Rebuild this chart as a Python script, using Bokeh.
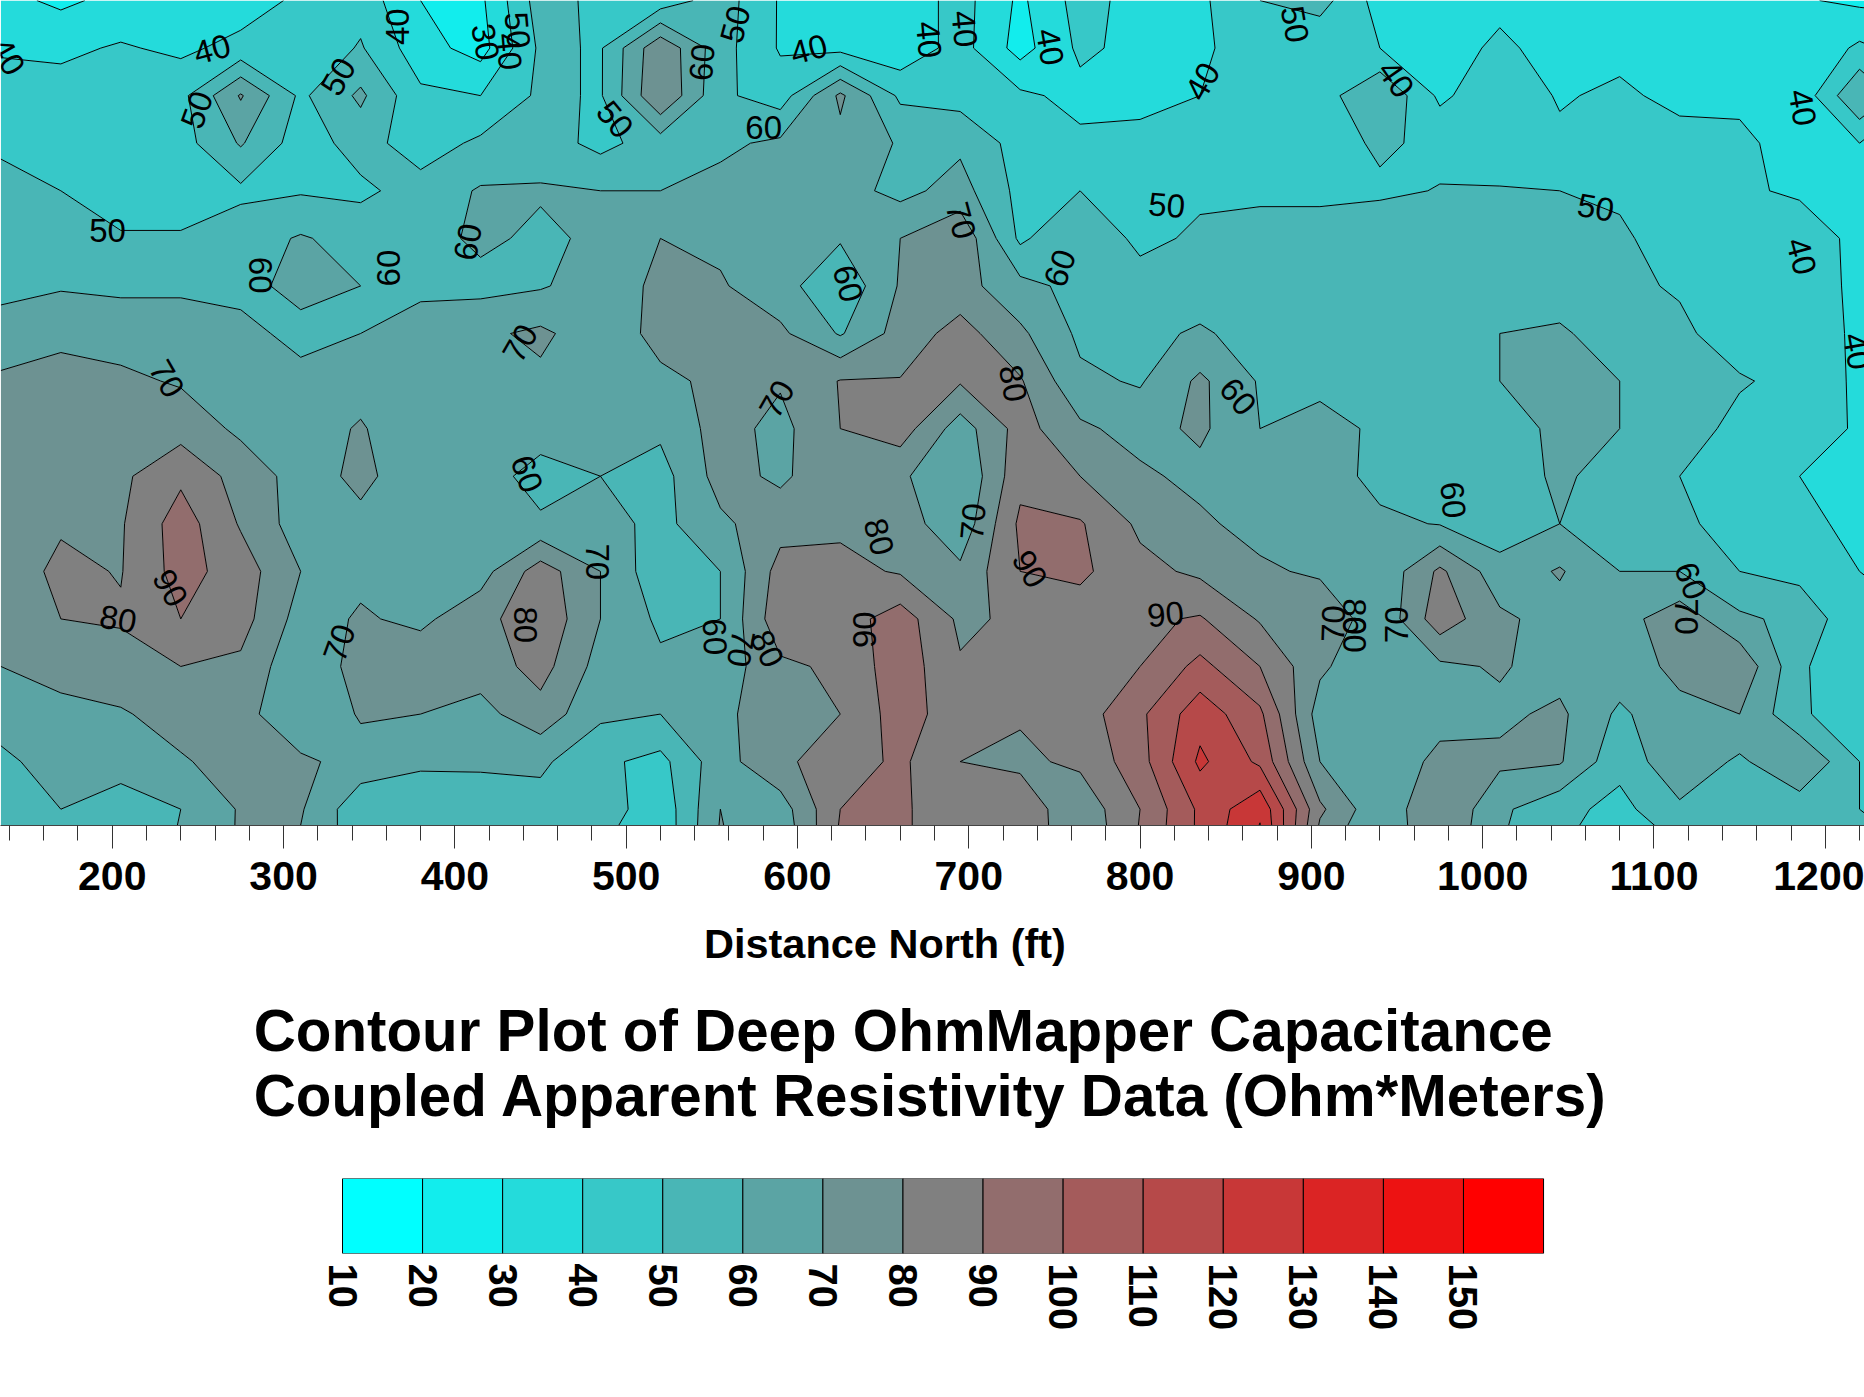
from math import pi
import numpy as np
from bokeh.plotting import figure
from bokeh.layouts import column
from bokeh.models import Range1d, FixedTicker, ColumnDataSource
from bokeh.core.properties import value
from bokeh.embed import file_html
from bokeh.resources import INLINE

distance_ft = [135 + 35 * i for i in range(33)]
row_pos = [40 * k for k in range(19)]

r00 = [33,28,33,33,35,42,46,30,28,55,47,44,55,39,36,33,44,28,44,36,38,50,54,36,34,36,34,34,33,32,31,28,28]
r01 = [39,38,41,38,43,42,51,34,26,52,49,78,54,39,37,33,44,26,42,37,37,49,42,40,33,43,34,37,33,33,31,42,35]
r02 = [44,44,44,47,71,48,62,42,40,52,49,80,52,45,72,48,46,42,37,38,40,44,45,60,38,47,39,42,37,38,33,60,40]
r03 = [48,46,45,46,61,45,54,45,52,55,47,55,58,62,67,59,58,46,42,42,42,43,44,52,47,41,42,41,44,42,36,40,36]
r04 = [54,50,45,45,48,49,48,54,61,61,60,60,63,66,64,57,64,47,50,47,48,49,49,48,50.5,51,50,49,45,42,38,34,34]
r05 = [56,55,51,51,55,61,56,56,62,58,62,70,68,63,61,70,78,48,60,47,52,52,52,58,54,56,52,51,47,45,48,36,36]
r06 = [58,59,58,59,58,62,60,57,57,59,65,72,71,64,52,71,74,63,57,55,56,54,53,60,57,55,53,52,49,46,47,37,38]
r07 = [63,68,66,63,62,58,60,66,68,72,64,73,74,72,59,74,84,72,58,58,61,57,55,55,54,60,62,53,52,45,43,39,45]
r08 = [72,73,72,69,70,62,66,64,68,68,68,68,72,71,80.5,80.5,81,81,62,59,72,59,57,57,54,60,64,60,59,51,47,38,39]
r09 = [74,75,75,76,68,65,71,62,66,66,67,62,74,67,80,85,65,84,72,66,72,60,64,58,57,56,62,60,55,47,44,39,38]
r10 = [77,77,78,88,76,66,72,65,66,55,60,56,74,68,78,72,60,87,80,72,67,66,65,57,60,54,62,55,50,45,40,33,38]
r11 = [77,79,79,95,79,65,68,65,66,62,64,57,68,76,78,75,63,92,91,78,72,66,64,62,59.5,54,60,60,52,46,42,38,40]
r12 = [75,82,79.5,94,85,70,68,64,66,85,70,53,60,84,83,79,72,90,92,83,78,72,68,62,82,64,71,60,60,50,47,40,40]
r13 = [74,80,81,90,84,66,71,68,76,88,70,58,60,87,85,95,78,82,85,88,91,79,80,62,86,72,66,66,76,62,57,42,40]
r14 = [70,75,76,80,78,62,74,76,74,84,66,62,64,78,82,96,81,82,88,90,103,90,72,61,68,71,66,66,72,78,52,40,42]
r15 = [64,66,69,74,74,61,71,70,67,76,62,60,68,75,80,95,84,81,85,98,116,102,65,62,66,68,72,58,68,70,52,42,45]
r16 = [58,64,66,69,74,72,66,62,62,62,52,47,66,78,85,92,80,78,82,96,122,108,70,62,73,72,71,53,68,58,70,50,44]
r17 = [57,60,53,60,71,71,53,52,53,56,56,43,70,65,90,92,82,86,73,90,112,128,82,62,80,62,53,47,58,54,54,50,48]
r18 = [56,57,50,62,71,68,55,50,50,53,50,42,72,60,93,93,78,92,68,92,112,135,72,62,78,60,50,47,48,52,53,52,50]

levels = list(range(10, 170, 10))
band_starts = levels[:-1]
band_colors = ["#%02x%02x%02x" % (round(255 * i / 14), round(255 * (14 - i) / 14), round(255 * (14 - i) / 14)) for i in range(15)]

label_text = ["40","40","50","50","40","30","40","50","50","60","50","40","40","40","40","50","40","40","60","50",
              "60","60","60","70","70","70","60","70","60","50","50","40","40","40","60","80","60","70","70","80",
              "80","90","80","70","90","90","90","60","70","80","70","80","60","70","60","60","70"]
label_px = [6,178,165,284,334,408,428,435,618,590,517,680,781,811,883,1089,1011,1174,642,90,
            219,326,393,437,140,653,713,808,891,981,1342,1515,1516,1562,1041,852,443,502,285,442,
            99,143,739,818,866,980,727,601,623,645,1121,1139,1139,1174,1222,1422,1418]
label_py = [47,41,92,64,22,35,43,25,20,52,100,41,33,24,39,20,68,66,107,193,
            231,225,203,288,318,335,238,185,225,172,174,215,90,295,333,322,398,472,540,525,
            520,494,451,438,478,516,529,535,545,545,524,518,533,525,420,488,518]
label_ang = [-60,15,70,60,90,-80,-85,-85,75,85,-50,15,-85,-85,-80,-80,60,-55,0,0,
             -90,90,80,60,-60,60,-75,-75,70,-5,-10,-75,-80,-80,-50,-80,-70,-90,70,-90,
             -10,-60,-75,85,-60,5,90,-88,-100,-65,88,-90,-90,90,-85,-70,-90]

def ft(px):
    return 200 + (px - 94) / 1.441

z = np.array([r00,r01,r02,r03,r04,r05,r06,r07,r08,r09,r10,r11,r12,r13,r14,r15,r16,r17,r18], dtype=float)

FONT = "Liberation Sans"
p = figure(width=1864, height=905, output_backend="svg", toolbar_location=None,
           x_range=Range1d(ft(0), ft(1568)), y_range=Range1d(693.7, 0),
           y_axis_location=None, min_border_left=0, min_border_right=0, min_border_top=0, min_border_bottom=80)
p.grid.visible = False
p.outline_line_color = None
p.contour(distance_ft, row_pos, z, levels, fill_color=band_colors, line_color="black", line_width=1)

src = ColumnDataSource(dict(x=[ft(v) for v in label_px], y=label_py, t=label_text, a=[v * pi / 180 for v in label_ang]))
p.text("x", "y", text="t", angle="a", source=src, text_align="center", text_baseline="middle",
       text_font=value(FONT), text_font_size="33px", text_color="black")

ax = p.xaxis[0]
ax.ticker = FixedTicker(ticks=list(range(100, 1300, 100)), minor_ticks=list(range(100, 1300, 20)))
ax.major_tick_in = 0
ax.major_tick_out = 23
ax.minor_tick_in = 0
ax.minor_tick_out = 15
ax.major_tick_line_color = "#333333"
ax.minor_tick_line_color = "#333333"
ax.axis_line_color = "#444444"
ax.major_label_standoff = 13
ax.major_label_text_font = FONT
ax.major_label_text_font_style = "bold"
ax.major_label_text_font_size = "41px"
ax.major_label_text_color = "black"

mid = figure(width=1864, height=265, output_backend="svg", toolbar_location=None,
             x_range=Range1d(0, 1568), y_range=Range1d(984, 761.3),
             x_axis_location=None, y_axis_location=None,
             min_border_left=0, min_border_right=0, min_border_top=0, min_border_bottom=0)
mid.grid.visible = False
mid.outline_line_color = None
mid.text([744], [793], text=["Distance North (ft)"], text_align="center", text_baseline="middle",
         text_font=value(FONT), text_font_style="bold", text_font_size="41.5px", text_color="black")
mid.text([213, 213], [866, 921], text=["Contour Plot of Deep OhmMapper Capacitance", "Coupled Apparent Resistivity Data (Ohm*Meters)"],
         text_align="left", text_baseline="middle", text_font=value(FONT), text_font_style="bold",
         text_font_size="58.3px", text_color="black")

per_unit = 8.007
bar = figure(width=1864, height=227, output_backend="svg", toolbar_location=None,
             x_range=Range1d(10 + (0 - 342) / per_unit, 10 + (1864 - 342) / per_unit), y_range=Range1d(0, 1),
             y_axis_location=None, min_border_left=0, min_border_right=0, min_border_top=8, min_border_bottom=144)
bar.grid.visible = False
bar.outline_line_color = None
bar.quad(left=band_starts, right=[v + 10 for v in band_starts], bottom=0, top=1, fill_color=band_colors,
         line_color="black", line_width=1)
bx = bar.xaxis[0]
bx.ticker = FixedTicker(ticks=band_starts)
bx.axis_line_color = None
bx.major_tick_line_color = None
bx.minor_tick_line_color = None
bx.major_label_orientation = -pi / 2
bx.major_label_standoff = 4
bx.major_label_text_font = FONT
bx.major_label_text_font_style = "bold"
bx.major_label_text_font_size = "40px"
bx.major_label_text_color = "black"

layout = column(p, mid, bar, spacing=0)
open("out.html", "w").write(file_html(layout, INLINE))
